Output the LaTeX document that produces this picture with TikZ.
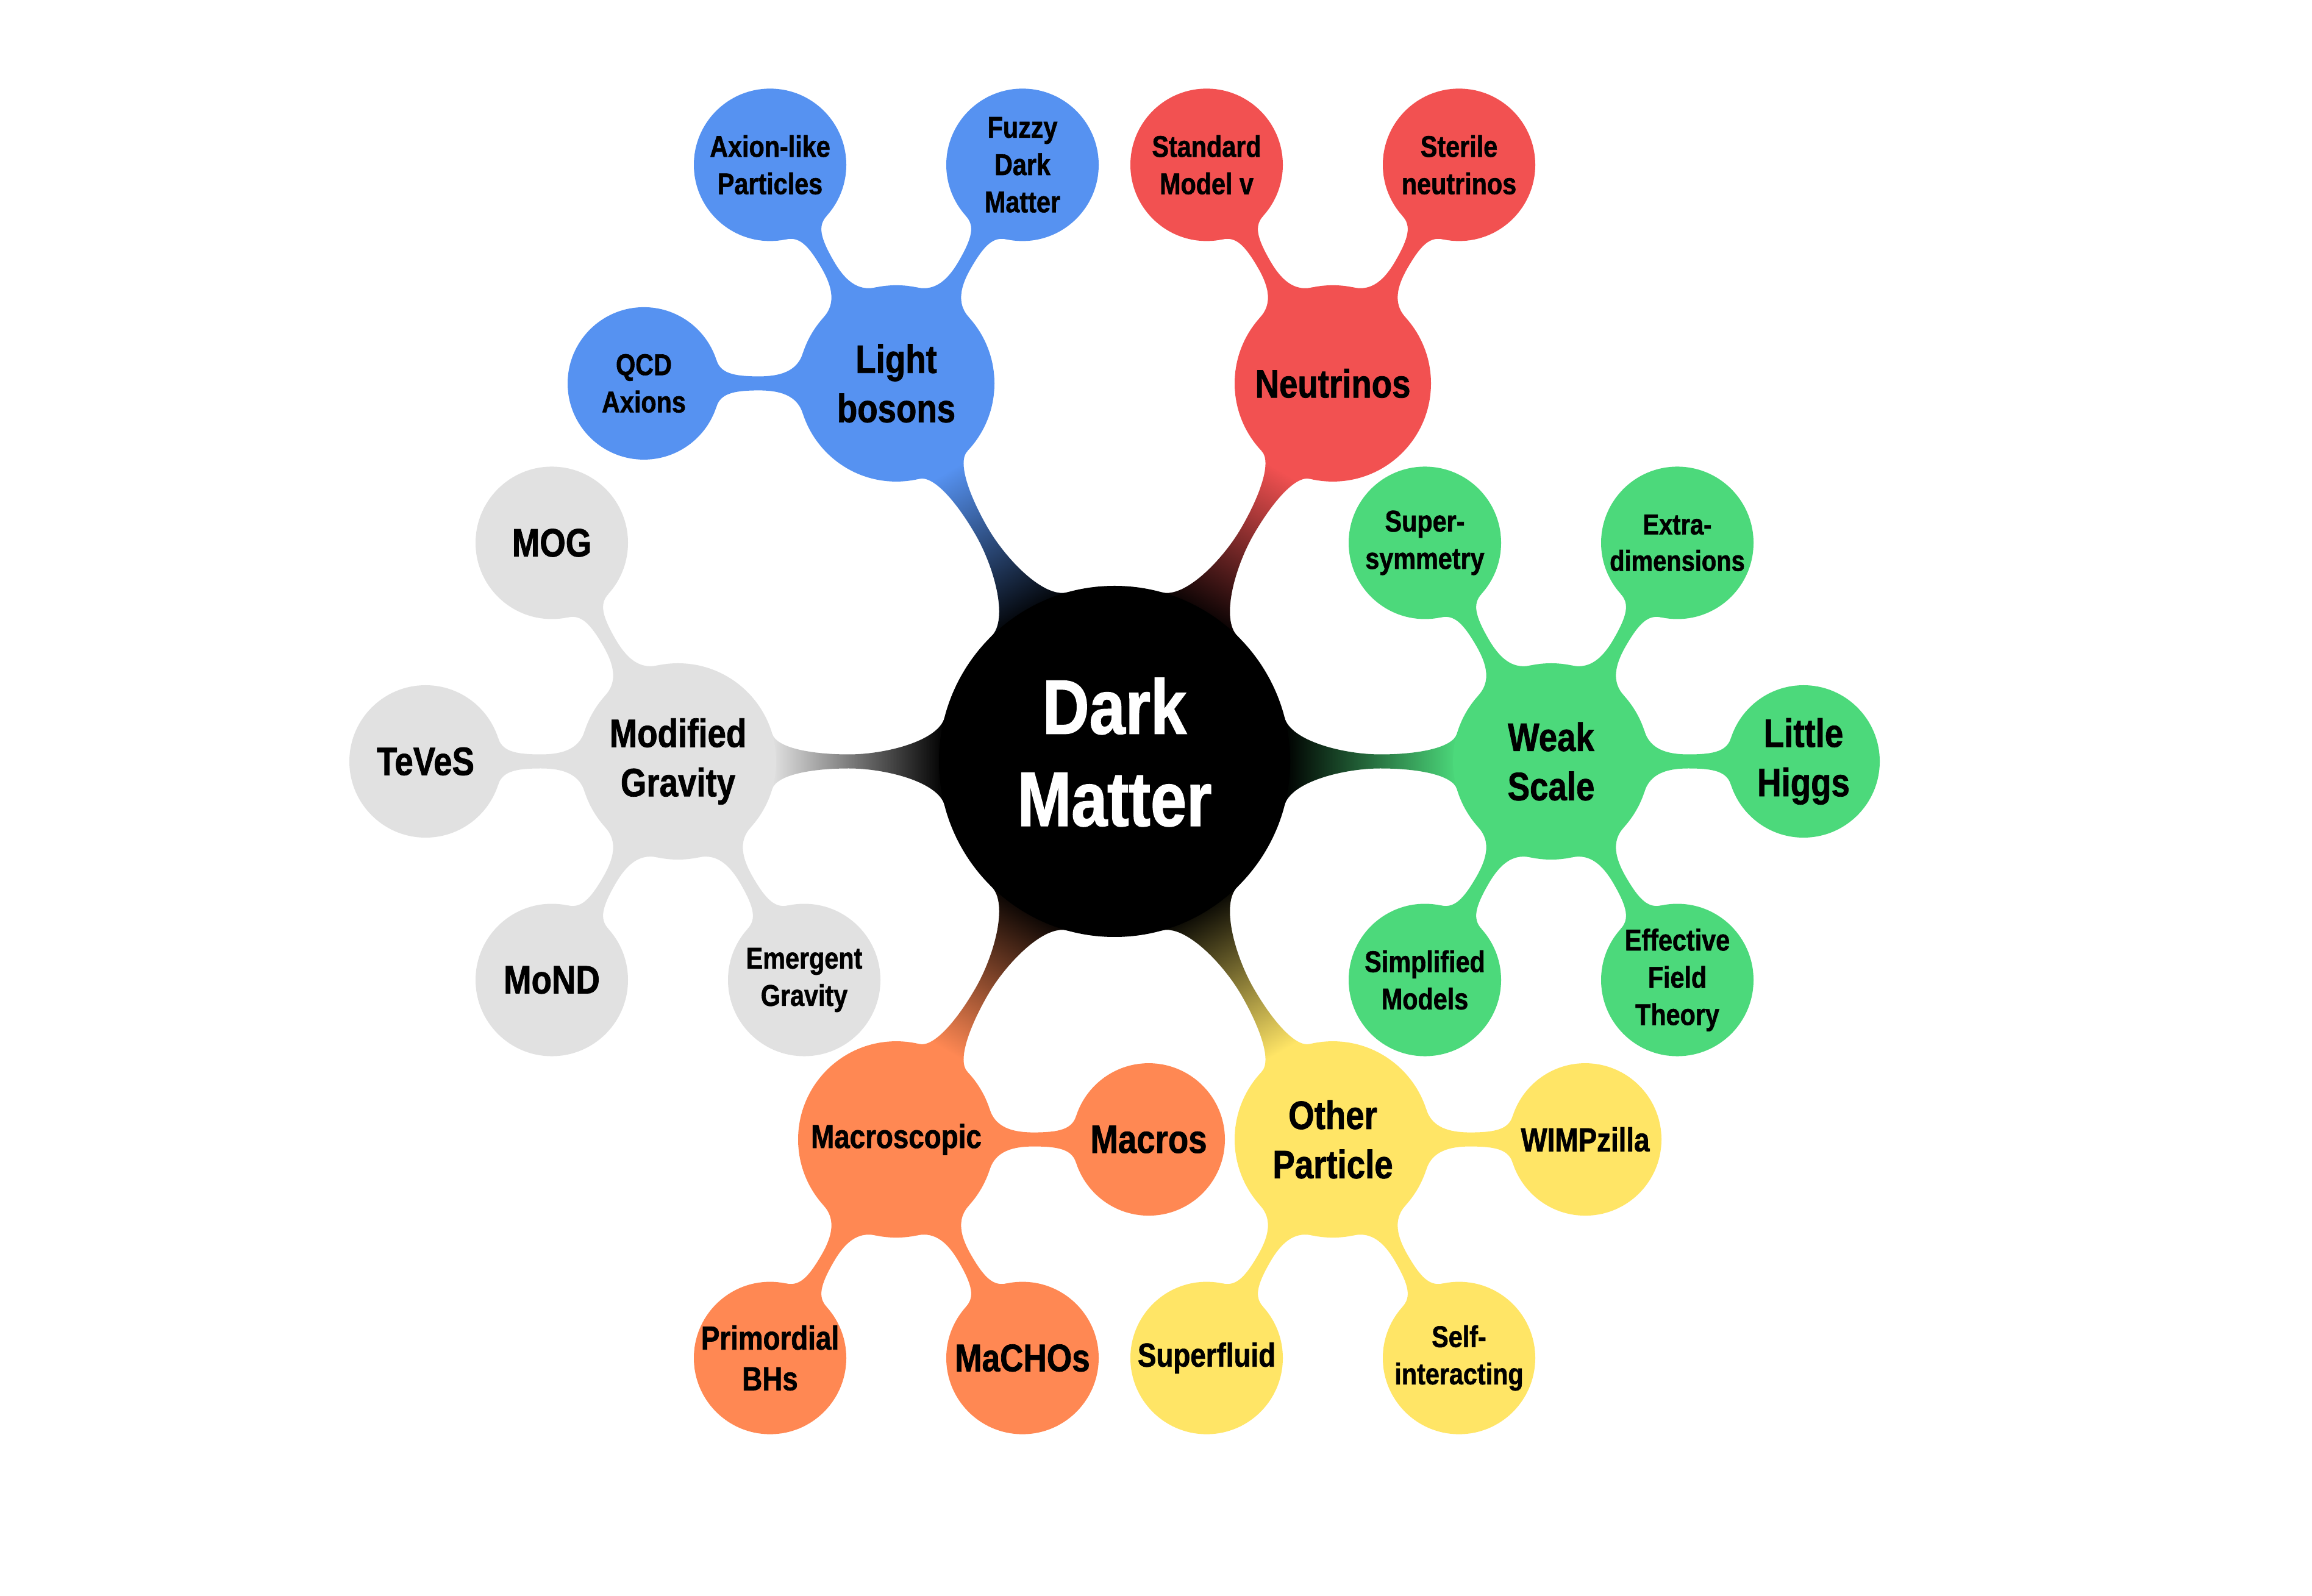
\documentclass[tikz,border=0pt]{standalone}
\usepackage{fontspec}
\newfontfamily\lab{Liberation Sans}[FakeStretch=0.84, FakeBold=1.2]
\usetikzlibrary{calc,backgrounds}
\definecolor{cblue}{HTML}{5692F1}
\definecolor{cred}{HTML}{F25151}
\definecolor{cgreen}{HTML}{4CD97B}
\definecolor{cgray}{HTML}{E1E1E1}
\definecolor{corange}{HTML}{FF8853}
\definecolor{cyellow}{HTML}{FFE566}
% local point: distance #3 along #1->#2, offset #4 sideways (side angle #5)
\newcommand\lp[5]{($(#1.center)!#3cm!(#2.center)!#4cm!#5:(#2.center)$)}
\newcommand\childlink[3]{%
 \path[#3] \lp{#1}{#2}{1.531}{0.4975}{90}
  .. controls \lp{#1}{#2}{1.608}{0.26}{90} and \lp{#1}{#2}{1.80}{0.115}{90} .. \lp{#1}{#2}{2.25}{0.115}{90}
  .. controls \lp{#1}{#2}{2.70}{0.115}{90} and \lp{#1}{#2}{2.883}{0.177}{90} .. \lp{#1}{#2}{2.951}{0.386}{90}
  -- \lp{#1}{#2}{2.951}{0.386}{-90}
  .. controls \lp{#1}{#2}{2.883}{0.177}{-90} and \lp{#1}{#2}{2.70}{0.115}{-90} .. \lp{#1}{#2}{2.25}{0.115}{-90}
  .. controls \lp{#1}{#2}{1.80}{0.115}{-90} and \lp{#1}{#2}{1.608}{0.26}{-90} .. \lp{#1}{#2}{1.531}{0.4975}{-90}
  -- cycle;}
\newcommand\mainlink[3]{%
 \path[#3] \lp{#1}{#2}{1.544}{0.457}{90}
  .. controls \lp{#1}{#2}{1.615}{0.217}{90} and \lp{#1}{#2}{2.20}{0.115}{90} .. \lp{#1}{#2}{2.80}{0.115}{90}
  .. controls \lp{#1}{#2}{3.40}{0.115}{90} and \lp{#1}{#2}{4.272}{0.334}{90} .. \lp{#1}{#2}{4.372}{0.721}{90}
  -- \lp{#1}{#2}{4.372}{0.721}{-90}
  .. controls \lp{#1}{#2}{4.272}{0.334}{-90} and \lp{#1}{#2}{3.40}{0.115}{-90} .. \lp{#1}{#2}{2.80}{0.115}{-90}
  .. controls \lp{#1}{#2}{2.20}{0.115}{-90} and \lp{#1}{#2}{1.615}{0.217}{-90} .. \lp{#1}{#2}{1.544}{0.457}{-90}
  -- cycle;}
\tikzset{
 dmnode/.style={circle, fill=black, text=white, minimum size=5.76cm, inner sep=0pt, align=center,
   font=\lab\bfseries\fontsize{36}{43}\selectfont},
 mainnode/.style={circle, minimum size=3.22cm, inner sep=0pt, align=center,
   font=\lab\bfseries\fontsize{18.5}{23}\selectfont},
 subnode/.style={circle, minimum size=2.5cm, inner sep=0pt, align=center,
   font=\lab\bfseries\fontsize{14}{17.4}\selectfont},
 bigsub/.style={subnode, font=\lab\bfseries\fontsize{18.5}{23}\selectfont},
 midsub/.style={subnode, font=\lab\bfseries\fontsize{15.5}{19}\selectfont},
}
\begin{document}
\begin{tikzpicture}
\useasboundingbox (0,0) rectangle (37.92,26.17);
% centre and main topics
\node[dmnode] (dm) at (18.28,13.68) {\raisebox{0.08cm}{\begin{tabular}{@{}c@{}}Dark\\Matter\end{tabular}}};
\node[mainnode, fill=cblue] (lb) at ($(dm)+(120:7.16)$) {Light\\bosons};
\node[mainnode, fill=cred] (nu) at ($(dm)+(60:7.16)$) {Neutrinos};
\node[mainnode, fill=cgreen] (ws) at ($(dm)+(0:7.16)$) {Weak\\Scale};
\node[mainnode, fill=cgray] (mg) at ($(dm)+(180:7.16)$) {Modified\\Gravity};
\node[mainnode, fill=corange, font=\lab\bfseries\fontsize{15.5}{19}\selectfont] (mac) at ($(dm)+(240:7.16)$) {Macroscopic};
\node[mainnode, fill=cyellow] (op) at ($(dm)+(300:7.16)$) {Other\\Particle};
% light bosons
\node[subnode, fill=cblue] (qcd) at ($(lb)+(180:4.14)$) {QCD\\Axions};
\node[subnode, fill=cblue] (alp) at ($(lb)+(120:4.14)$) {Axion-like\\Particles};
\node[subnode, fill=cblue] (fdm) at ($(lb)+(60:4.14)$) {Fuzzy\\Dark\\Matter};
% neutrinos
\node[subnode, fill=cred] (smv) at ($(nu)+(120:4.14)$) {Standard\\Model v};
\node[subnode, fill=cred] (ster) at ($(nu)+(60:4.14)$) {Sterile\\neutrinos};
% weak scale
\node[subnode, fill=cgreen] (susy) at ($(ws)+(120:4.14)$) {Super-\\symmetry};
\node[subnode, fill=cgreen, font=\lab\bfseries\fontsize{13.5}{17}\selectfont] (xd) at ($(ws)+(60:4.14)$) {Extra-\\dimensions};
\node[bigsub, fill=cgreen] (lh) at ($(ws)+(0:4.14)$) {Little\\Higgs};
\node[subnode, fill=cgreen] (eft) at ($(ws)+(300:4.14)$) {Effective\\Field\\Theory};
\node[subnode, fill=cgreen] (simp) at ($(ws)+(240:4.14)$) {Simplified\\Models};
% modified gravity
\node[bigsub, fill=cgray] (mog) at ($(mg)+(120:4.14)$) {MOG};
\node[bigsub, fill=cgray] (teves) at ($(mg)+(180:4.14)$) {TeVeS};
\node[bigsub, fill=cgray] (mond) at ($(mg)+(240:4.14)$) {MoND};
\node[subnode, fill=cgray] (emg) at ($(mg)+(300:4.14)$) {Emergent\\Gravity};
% macroscopic
\node[bigsub, fill=corange] (macros) at ($(mac)+(0:4.14)$) {Macros};
\node[midsub, fill=corange] (pbh) at ($(mac)+(240:4.14)$) {Primordial\\BHs};
\node[bigsub, fill=corange, font=\lab\bfseries\fontsize{18}{22}\selectfont] (macho) at ($(mac)+(300:4.14)$) {MaCHOs};
% other particle
\node[midsub, fill=cyellow] (wimp) at ($(op)+(0:4.14)$) {WIMPzilla};
\node[midsub, fill=cyellow] (sfl) at ($(op)+(240:4.14)$) {Superfluid};
\node[subnode, fill=cyellow] (sidm) at ($(op)+(300:4.14)$) {Self-\\interacting};
% connectors
\begin{scope}[on background layer]
\fill[white] (0,0) rectangle (37.92,26.17);
\mainlink{lb}{dm}{top color=cblue, bottom color=black, shading angle=30}
\mainlink{nu}{dm}{top color=cred, bottom color=black, shading angle=-30}
\mainlink{ws}{dm}{top color=cgreen, bottom color=black, shading angle=-90}
\mainlink{mg}{dm}{top color=cgray, bottom color=black, shading angle=90}
\mainlink{mac}{dm}{top color=corange, bottom color=black, shading angle=150}
\mainlink{op}{dm}{top color=cyellow, bottom color=black, shading angle=210}
\childlink{lb}{qcd}{fill=cblue}
\childlink{lb}{alp}{fill=cblue}
\childlink{lb}{fdm}{fill=cblue}
\childlink{nu}{smv}{fill=cred}
\childlink{nu}{ster}{fill=cred}
\childlink{ws}{susy}{fill=cgreen}
\childlink{ws}{xd}{fill=cgreen}
\childlink{ws}{lh}{fill=cgreen}
\childlink{ws}{eft}{fill=cgreen}
\childlink{ws}{simp}{fill=cgreen}
\childlink{mg}{mog}{fill=cgray}
\childlink{mg}{teves}{fill=cgray}
\childlink{mg}{mond}{fill=cgray}
\childlink{mg}{emg}{fill=cgray}
\childlink{mac}{macros}{fill=corange}
\childlink{mac}{pbh}{fill=corange}
\childlink{mac}{macho}{fill=corange}
\childlink{op}{wimp}{fill=cyellow}
\childlink{op}{sfl}{fill=cyellow}
\childlink{op}{sidm}{fill=cyellow}
\end{scope}
\end{tikzpicture}
\end{document}
